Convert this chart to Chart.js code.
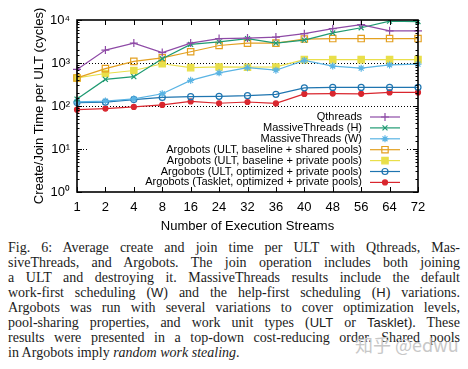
<!DOCTYPE html>
<html>
<head>
<meta charset="utf-8">
<script src="https://cdn.jsdelivr.net/npm/chart.js@4/dist/chart.umd.min.js"></script>
<style>
  body { margin: 0; background: #fff; }
  #wrap { position: relative; width: 468px; height: 369px; overflow: hidden; }
  #cap {
    position: absolute; left: 8px; top: 240px; width: 452px;
    font-family: "Liberation Serif", serif; font-size: 14px; line-height: 15px; color: #1c1c1c;
  }
  #cap div { text-align: justify; text-align-last: justify; white-space: nowrap; }
  #cap div.last { text-align-last: left; }
  .sf { font-family: "Liberation Sans", sans-serif; font-size: 13px; }
  #mark {
    position: absolute; left: 355px; top: 333px; line-height: 22px;
    font-family: "Noto Sans CJK SC", sans-serif; font-size: 18px; color: #c8c8c8;
  }
</style>
</head>
<body>
<div id="wrap">
  <canvas id="myChart" width="468" height="234"></canvas>
  <div id="cap">
    <div>Fig. 6: Average create and join time per ULT with Qthreads, Mas-</div>
    <div>siveThreads, and Argobots. The join operation includes both joining</div>
    <div>a ULT and destroying it. MassiveThreads results include the default</div>
    <div>work-first scheduling (<span class="sf">W</span>) and the help-first scheduling (<span class="sf">H</span>) variations.</div>
    <div>Argobots was run with several variations to cover optimization levels,</div>
    <div>pool-sharing properties, and work unit types (<span class="sf">ULT</span> or <span class="sf">Tasklet</span>). These</div>
    <div>results were presented in a top-down cost-reducing order. Shared pools</div>
    <div class="last">in Argobots imply <i>random work stealing</i>.</div>
  </div>
  <div id="mark">知乎 @edwu</div>
</div>
<script>
// data (cycles)
const streams = ["1", "2", "4", "8", "16", "24", "32", "36", "40", "48", "56", "64", "72"];
const qthreads = [710, 2000, 2900, 1750, 2900, 3700, 3800, 4000, 4800, 6300, 7800, 5600, 5600];
const massiveH = [145, 415, 480, 1260, 2700, 3100, 3700, 2900, 3400, 5000, 6600, 9400, 9200];
const massiveW = [125, 130, 147, 193, 395, 590, 780, 680, 1150, 850, 760, 900, 940];
const abtSharedBase = [450, 740, 1090, 1320, 1830, 2550, 2900, 2900, 3600, 3700, 3700, 3700, 3700];
const abtPrivateBase = [450, 570, 670, 960, 780, 810, 800, 810, 1200, 1200, 1200, 1200, 1200];
const abtPrivateOpt = [120, 123, 141, 158, 165, 168, 174, 187, 265, 270, 270, 270, 272];
const abtTasklet = [82, 87, 95, 106, 128, 116, 124, 115, 191, 194, 192, 207, 207];
const yTicks = [1, 10, 100, 1000, 10000];

const seriesNames = [
  "Qthreads",
  "MassiveThreads (H)",
  "MassiveThreads (W)",
  "Argobots (ULT, baseline + shared pools)",
  "Argobots (ULT, baseline + private pools)",
  "Argobots (ULT, optimized + private pools)",
  "Argobots (Tasklet, optimized + private pools)",
];

const sup = { 0: "\u2070", 1: "\u00b9", 2: "\u00b2", 3: "\u00b3", 4: "\u2074" };
const isDecade = (v) => yTicks.includes(v);

function ds(label, data, color, style, radius, open) {
  return {
    label: label,
    data: data,
    borderColor: color,
    backgroundColor: open ? "rgba(255,255,255,0)" : color,
    borderWidth: 1.2,
    pointStyle: style,
    pointRadius: radius,
    pointBorderWidth: 1.2,
    pointBackgroundColor: open ? "rgba(255,255,255,0)" : color,
    tension: 0,
  };
}

// frame, inward ticks, dotted grid and the key inside the plot
const gnuFrame = {
  id: "gnuFrame",
  beforeDatasetsDraw(chart) {
    const { ctx, chartArea: a, scales } = chart;
    const y = scales.y;
    ctx.save();
    ctx.strokeStyle = "#000";
    ctx.lineWidth = 1;
    ctx.setLineDash([1, 2]);
    y.ticks.forEach((t) => {
      if (isDecade(t.value) && t.value > 1 && t.value < 10000) {
        const py = Math.round(y.getPixelForValue(t.value)) + 0.5;
        ctx.beginPath();
        ctx.moveTo(a.left, py);
        ctx.lineTo(a.right, py);
        ctx.stroke();
      }
    });
    ctx.setLineDash([]);
    // key background
    ctx.fillStyle = "#fff";
    ctx.fillRect(a.left + 11, a.bottom - 80, a.width - 23, 76);
    ctx.restore();
  },
  afterDraw(chart) {
    const { ctx, chartArea: a, scales } = chart;
    const x = scales.x, y = scales.y;
    ctx.save();
    ctx.strokeStyle = "#000";
    ctx.lineWidth = 1;
    // x ticks, bottom and top
    streams.forEach((s, i) => {
      const px = Math.round(x.getPixelForValue(i)) + 0.5;
      ctx.beginPath();
      ctx.moveTo(px, a.bottom);
      ctx.lineTo(px, a.bottom - 5);
      ctx.moveTo(px, a.top);
      ctx.lineTo(px, a.top + 5);
      ctx.stroke();
    });
    // y ticks, left and right
    y.ticks.forEach((t) => {
      const py = Math.round(y.getPixelForValue(t.value)) + 0.5;
      const len = isDecade(t.value) ? 5 : 2.5;
      ctx.beginPath();
      ctx.moveTo(a.left, py);
      ctx.lineTo(a.left + len, py);
      ctx.moveTo(a.right, py);
      ctx.lineTo(a.right - len, py);
      ctx.stroke();
    });
    // border
    ctx.lineWidth = 1.6;
    ctx.strokeRect(a.left, a.top, a.width, a.height);

    // key
    ctx.font = '11px "Liberation Sans", sans-serif';
    ctx.textAlign = "right";
    ctx.textBaseline = "middle";
    chart.data.datasets.forEach((d, i) => {
      const ly = a.bottom - 75 + i * 10.9;
      ctx.fillStyle = "#000";
      ctx.fillText(d.label, a.right - 56, ly);
      ctx.strokeStyle = d.borderColor;
      ctx.lineWidth = 1.2;
      ctx.beginPath();
      ctx.moveTo(a.right - 48, ly);
      ctx.lineTo(a.right - 18, ly);
      ctx.stroke();
      ctx.fillStyle = d.pointBackgroundColor;
      if (Chart.helpers && Chart.helpers.drawPoint) {
        Chart.helpers.drawPoint(ctx, {
          pointStyle: d.pointStyle, radius: d.pointRadius, rotation: 0, borderWidth: 1.2,
        }, a.right - 33, ly);
      }
    });
    ctx.restore();
  },
};

const ctx = document.getElementById("myChart");

new Chart(ctx, {
  type: "line",
  data: {
    labels: streams,
    datasets: [
      ds(seriesNames[0], qthreads, "#8e4aa6", "cross", 4, false),
      ds(seriesNames[1], massiveH, "#1f9a72", "crossRot", 3.5, false),
      ds(seriesNames[2], massiveW, "#5ab4e4", "star", 3.5, false),
      ds(seriesNames[3], abtSharedBase, "#e3a020", "rect", 4.5, true),
      ds(seriesNames[4], abtPrivateBase, "#e9df4a", "rect", 4.5, false),
      ds(seriesNames[5], abtPrivateOpt, "#1f75b0", "circle", 3, true),
      ds(seriesNames[6], abtTasklet, "#d9262e", "circle", 2.5, false),
    ],
  },
  options: {
    responsive: false,
    animation: false,
    devicePixelRatio: 1,
    layout: { padding: { top: 20, right: 50, left: 32, bottom: 0 } },
    plugins: { legend: { display: false }, tooltip: { enabled: false } },
    scales: {
      x: {
        type: "category",
        offset: false,
        grid: { display: false, drawTicks: false },
        border: { display: false },
        ticks: {
          color: "#000", padding: 8, maxRotation: 0, autoSkip: false,
          font: { family: "Liberation Sans", size: 13 },
        },
        title: {
          display: true, text: "Number of Execution Streams", color: "#000",
          padding: 0, font: { family: "Liberation Sans", size: 13 },
        },
        afterFit: (s) => { s.height = 42; },
      },
      y: {
        type: "logarithmic",
        min: 1,
        max: 10000,
        grid: { display: false, drawTicks: false },
        border: { display: false },
        ticks: {
          color: "#000", padding: 7, autoSkip: false,
          font: { family: "Liberation Sans", size: 13 },
          callback: (v) => (isDecade(v) ? "10" + sup[Math.round(Math.log10(v))] : ""),
        },
        title: {
          display: true, text: "Create/Join Time per ULT (cycles)", color: "#000",
          padding: 0, font: { family: "Liberation Sans", size: 13 },
        },
        afterFit: (s) => { s.width = 45; },
      },
    },
  },
  plugins: [gnuFrame],
});
</script>
</body>
</html>
